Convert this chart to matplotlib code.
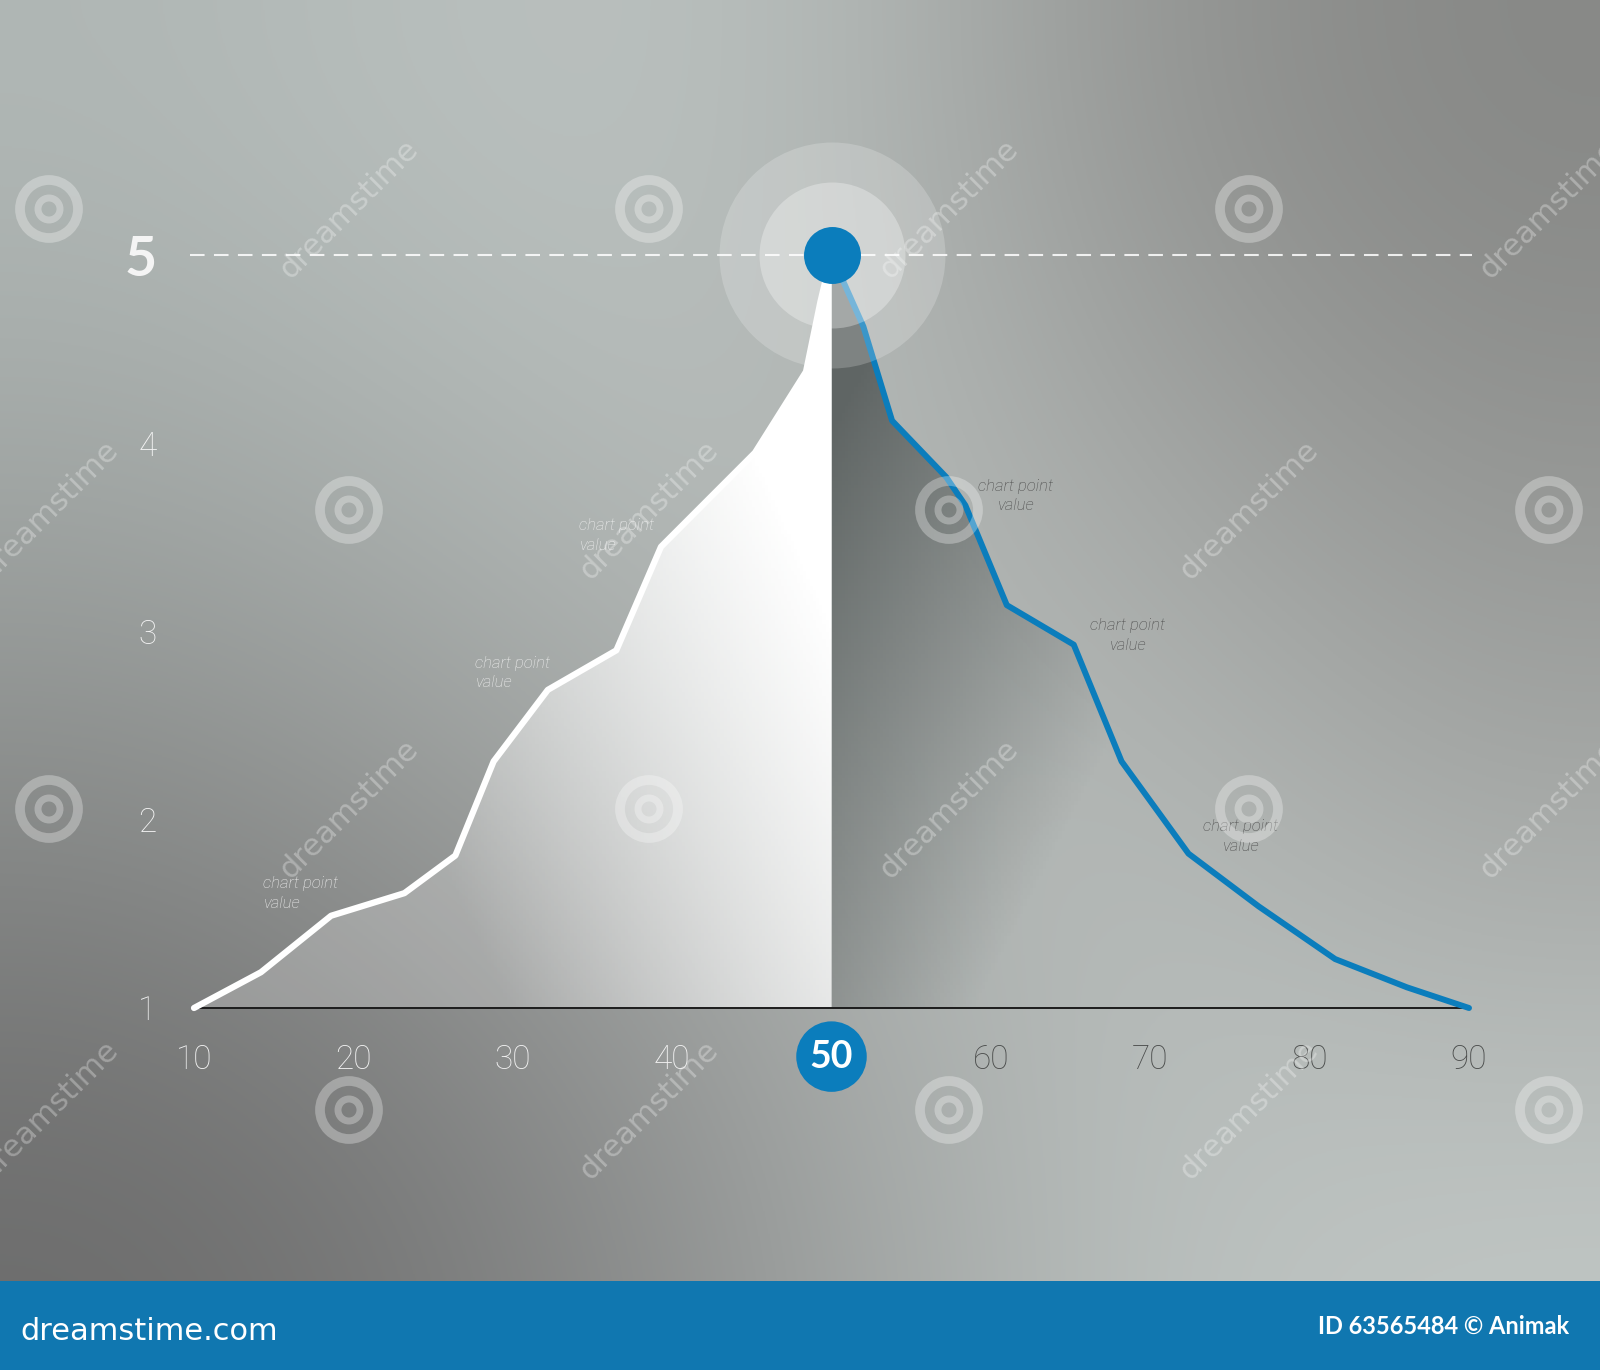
import numpy as np
import matplotlib
matplotlib.use("Agg")
import matplotlib.pyplot as plt
from matplotlib.patches import Polygon, Circle

# values
left_x = [10, 14.2, 18.6, 23.2, 26.4, 28.8, 32.2, 36.5, 39.3, 45.2, 48.4, 49.3, 50]
left_y = [1, 1.19, 1.49, 1.61, 1.81, 2.31, 2.69, 2.90, 3.45, 3.95, 4.38, 4.75, 5]
right_x = [50, 52.0, 52.9, 53.8, 57.2, 58.4, 61.0, 65.2, 68.2, 72.4, 76.8, 81.6, 86.1, 90]
right_y = [5, 4.62, 4.37, 4.12, 3.82, 3.67, 3.14, 2.93, 2.31, 1.82, 1.54, 1.26, 1.11, 1.0]
peak_x, peak_y = 50, 5

x_ticks = [10, 20, 30, 40, 50, 60, 70, 80, 90]
x_labels = ["10", "20", "30", "40", "50", "60", "70", "80", "90"]
y_ticks = [1, 2, 3, 4, 5]
y_labels = ["1", "2", "3", "4", "5"]

note_x = [14.35, 27.66, 34.13, 61.52, 68.56, 75.67]
note_y = [1.61, 2.78, 3.51, 3.72, 2.98, 1.91]
note_text = "chart point\nvalue"

BLUE = "#0b7dbc"
TICKFONT = ["Roboto", "Lato", "DejaVu Sans"]

# background colour grid (rows top->bottom)
bg_colors = np.array([
    [(176, 183, 181), (186, 193, 191), (184, 190, 188), (150, 152, 150), (135, 136, 134)],
    [(160, 165, 163), (172, 178, 176), (185, 190, 188), (168, 171, 169), (150, 152, 150)],
    [(132, 134, 133), (150, 152, 151), (172, 176, 174), (185, 190, 188), (168, 171, 169)],
    [(108, 108, 108), (124, 125, 125), (155, 158, 157), (185, 191, 189), (192, 198, 196)],
]) / 255.0

fig = plt.figure(figsize=(16, 13.7), dpi=100)

bg = fig.add_axes([0, 0, 1, 1], zorder=0)
bg.set_xlim(0, 1600)
bg.set_ylim(1370, 0)
bg.axis("off")
bg.imshow(bg_colors, extent=(0, 1600, 1370, 0), interpolation="bicubic", aspect="auto")

ax = fig.add_axes([194 / 1600, (1370 - 1008) / 1370, 1275 / 1600, (1008 - 255) / 1370], zorder=2)
ax.patch.set_alpha(0)
for s in ["top", "right", "left"]:
    ax.spines[s].set_visible(False)
ax.spines["bottom"].set_color("#1c1c1c")
ax.spines["bottom"].set_linewidth(1.4)
ax.spines["bottom"].set_zorder(3)

# left white gradient fill
gx, gy = np.meshgrid(np.linspace(10, 50, 200), np.linspace(1, 5, 200))
a = np.clip(0.18 + 0.55 * (gx - 28) / 22 + 0.4 * (gy - 1) / 3, 0.22, 1)
rgba = np.ones((200, 200, 4))
rgba[..., 3] = a
im = ax.imshow(rgba, extent=(10, 50, 1, 5), origin="lower", aspect="auto", zorder=2)
im.set_clip_path(Polygon(list(zip(left_x, left_y)) + [(50, 1)], transform=ax.transData))

# right dark gradient fill
gx, gy = np.meshgrid(np.linspace(50, 90, 200), np.linspace(1, 5, 200))
a = np.clip(0.3 + 0.7 * (gy - 1) / 3.5 - 0.5 * (gx - 50) / 15, 0, 0.92)
rgba = np.zeros((200, 200, 4))
rgba[..., 0] = 88 / 255
rgba[..., 1] = 94 / 255
rgba[..., 2] = 93 / 255
rgba[..., 3] = a
im2 = ax.imshow(rgba, extent=(50, 90, 1, 5), origin="lower", aspect="auto", zorder=2)
im2.set_clip_path(Polygon([(50, 1)] + list(zip(right_x, right_y)), transform=ax.transData))

ax.set_xlim(10, 90)
ax.set_ylim(1, 5)

# dashed level line
ax.plot([x_ticks[0] - 0.25, x_ticks[-1] + 0.2], [peak_y, peak_y], color="white", alpha=0.85,
        lw=1.5, dashes=(7, 4.5), clip_on=False, zorder=3)

ax.plot(left_x, left_y, color="white", lw=4.5, solid_capstyle="round",
        solid_joinstyle="round", clip_on=False, zorder=4)
ax.plot(right_x, right_y, color=BLUE, lw=4.3, solid_capstyle="round",
        solid_joinstyle="round", clip_on=False, zorder=4)

# halo + peak dot
ax.scatter([peak_x], [peak_y], s=26471, color="white", alpha=0.2, lw=0, clip_on=False, zorder=5)
ax.scatter([peak_x], [peak_y], s=11047, color="white", alpha=0.3, lw=0, clip_on=False, zorder=5)
ax.scatter([peak_x], [peak_y], s=1682, color=BLUE, lw=0, clip_on=False, zorder=6)

# ticks
ax.set_xticks(x_ticks)
ax.set_xticklabels([("" if v == peak_x else t) for v, t in zip(x_ticks, x_labels)])
ax.set_yticks(y_ticks)
ax.set_yticklabels(y_labels)
ax.tick_params(axis="x", length=0, pad=26)
ax.tick_params(axis="y", length=0, pad=27)
for v, lab in zip(x_ticks, ax.get_xticklabels()):
    lab.set_fontfamily(TICKFONT)
    lab.set_fontweight("light")
    lab.set_fontsize(24)
    lab.set_color("#f2f2f2" if v < peak_x else "#4a4c4b")
for v, lab in zip(y_ticks, ax.get_yticklabels()):
    lab.set_fontfamily(TICKFONT)
    lab.set_color("#f4f4f4")
    if v == peak_y:
        lab.set_fontweight("bold")
        lab.set_fontsize(40)
        lab.set_fontfamily("Lato")
    else:
        lab.set_fontweight("light")
        lab.set_fontsize(24)

# highlighted x label in a blue disc
ax.annotate(x_labels[x_ticks.index(peak_x)], xy=(peak_x, 1), xytext=(0, -35),
            textcoords="offset points", ha="center", va="center", fontsize=27,
            fontweight="bold", family="Lato", color="white", annotation_clip=False,
            bbox=dict(boxstyle="circle,pad=0.36", fc=BLUE, ec="none"))

# chart point notes
for nx, ny in zip(note_x, note_y):
    if nx < peak_x:
        ax.text(nx, ny, note_text, ha="left", va="center", fontsize=12, family=TICKFONT,
                style="italic", fontweight="light", color="#f0f0f0", linespacing=1.4, zorder=7)
    else:
        ax.text(nx, ny, note_text, ha="center", va="center", fontsize=12, family=TICKFONT,
                style="italic", fontweight="light", color="#4a4a4a", linespacing=1.4,
                multialignment="center", zorder=7)

# watermark overlay
wm = fig.add_axes([0, 0, 1, 1], zorder=5)
wm.set_xlim(0, 1600)
wm.set_ylim(1370, 0)
wm.axis("off")
wm.patch.set_alpha(0)
cols = [49, 349, 649, 949, 1249, 1549]
rows = [209, 510, 809, 1110]
for r, yy in enumerate(rows):
    for c, xx in enumerate(cols):
        if (r + c) % 2 == 0:
            wm.add_patch(Circle((xx, yy), 29, fill=False, ec="white", lw=7, alpha=0.3))
            wm.add_patch(Circle((xx, yy), 11, fill=False, ec="white", lw=5, alpha=0.3))
        else:
            wm.text(xx, yy, "dreamstime", rotation=45, ha="center", va="center",
                    rotation_mode="anchor", fontsize=22, color="white", alpha=0.3, clip_on=True)

# banner
bx = fig.add_axes([0, 0, 1, 89 / 1370], zorder=6)
bx.set_facecolor("#1077b0")
bx.set_xlim(0, 1)
bx.set_ylim(0, 1)
bx.set_xticks([])
bx.set_yticks([])
for s in bx.spines.values():
    s.set_visible(False)
bx.text(0.0125, 0.43, "dreamstime.com", ha="left", va="center", fontsize=22,
        color="white", family="DejaVu Sans")
bx.text(0.981, 0.49, "ID 63565484 © Animak", ha="right", va="center", fontsize=17,
        color="white", fontweight="bold", family="Lato")

fig.savefig("out.png", dpi=100)
